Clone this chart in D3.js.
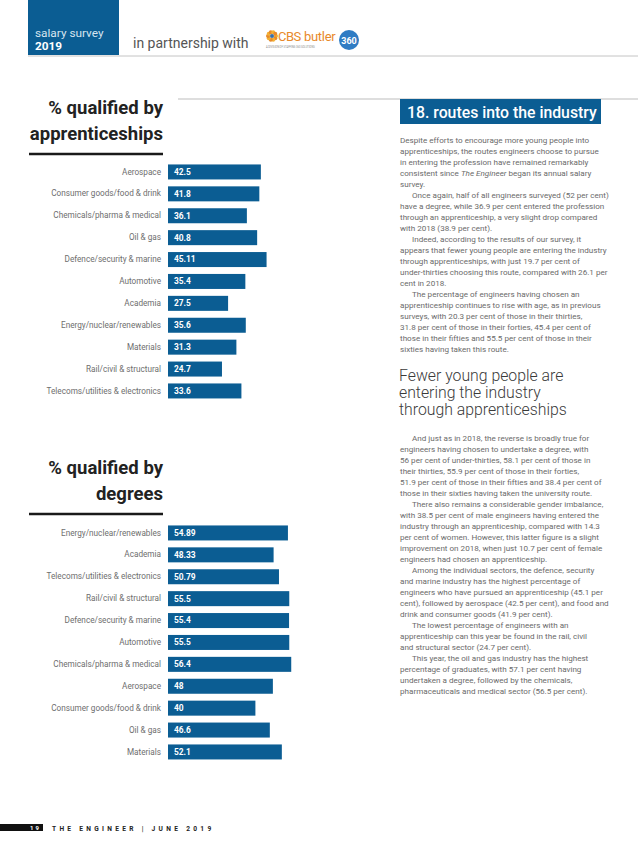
<!DOCTYPE html>
<html><head><meta charset="utf-8">
<script src="https://cdn.jsdelivr.net/npm/d3@7/dist/d3.min.js"></script>
<style>
html,body{margin:0;padding:0;background:#fff;}
svg{display:block;font-family:Roboto,"Noto Sans",sans-serif;}
</style></head>
<body>
<svg id="c" width="638" height="851"></svg>
<script>
// ---- data ----
const appCategories = ["Aerospace","Consumer goods/food & drink","Chemicals/pharma & medical","Oil & gas","Defence/security & marine","Automotive","Academia","Energy/nuclear/renewables","Materials","Rail/civil & structural","Telecoms/utilities & electronics"];
const appValues = [42.5,41.8,36.1,40.8,45.11,35.4,27.5,35.6,31.3,24.7,33.6];
const appLabels = ["42.5","41.8","36.1","40.8","45.11","35.4","27.5","35.6","31.3","24.7","33.6"];

const degCategories = ["Energy/nuclear/renewables","Academia","Telecoms/utilities & electronics","Rail/civil & structural","Defence/security & marine","Automotive","Chemicals/pharma & medical","Aerospace","Consumer goods/food & drink","Oil & gas","Materials"];
const degValues = [54.89,48.33,50.79,55.5,55.4,55.5,56.4,48,40,46.6,52.1];
const degLabels = ["54.89","48.33","50.79","55.5","55.4","55.5","56.4","48","40","46.6","52.1"];

const para1 = [
 ["Despite efforts to encourage more young people into",0],
 ["apprenticeships, the routes engineers choose to pursue",0],
 ["in entering the profession have remained remarkably",0],
 ["consistent since |The Engineer| began its annual salary",0],
 ["survey.",0],
 ["Once again, half of all engineers surveyed (52 per cent)",1],
 ["have a degree, while 36.9 per cent entered the profession",0],
 ["through an apprenticeship, a very slight drop compared",0],
 ["with 2018 (38.9 per cent).",0],
 ["Indeed, according to the results of our survey, it",1],
 ["appears that fewer young people are entering the industry",0],
 ["through apprenticeships, with just 19.7 per cent of",0],
 ["under-thirties choosing this route, compared with 26.1 per",0],
 ["cent in 2018.",0],
 ["The percentage of engineers having chosen an",1],
 ["apprenticeship continues to rise with age, as in previous",0],
 ["surveys, with 20.3 per cent of those in their thirties,",0],
 ["31.8 per cent of those in their forties, 45.4 per cent of",0],
 ["those in their fifties and 55.5 per cent of those in their",0],
 ["sixties having taken this route.",0]
];
const subhead = ["Fewer young people are","entering the industry","through apprenticeships"];
const para2 = [
 ["And just as in 2018, the reverse is broadly true for",1],
 ["engineers having chosen to undertake a degree, with",0],
 ["56 per cent of under-thirties, 58.1 per cent of those in",0],
 ["their thirties, 55.9 per cent of those in their forties,",0],
 ["51.9 per cent of those in their fifties and 38.4 per cent of",0],
 ["those in their sixties having taken the university route.",0],
 ["There also remains a considerable gender imbalance,",1],
 ["with 38.5 per cent of male engineers having entered the",0],
 ["industry through an apprenticeship, compared with 14.3",0],
 ["per cent of women. However, this latter figure is a slight",0],
 ["improvement on 2018, when just 10.7 per cent of female",0],
 ["engineers had chosen an apprenticeship.",0],
 ["Among the individual sectors, the defence, security",1],
 ["and marine industry has the highest percentage of",0],
 ["engineers who have pursued an apprenticeship (45.1 per",0],
 ["cent), followed by aerospace (42.5 per cent), and food and",0],
 ["drink and consumer goods (41.9 per cent).",0],
 ["The lowest percentage of engineers with an",1],
 ["apprenticeship can this year be found in the rail, civil",0],
 ["and structural sector (24.7 per cent).",0],
 ["This year, the oil and gas industry has the highest",1],
 ["percentage of graduates, with 57.1 per cent having",0],
 ["undertaken a degree, followed by the chemicals,",0],
 ["pharmaceuticals and medical sector (56.5 per cent).",0]
];

// ---- drawing ----
const BLUE = "#0b5d93";
const svg = d3.select("#c");

// header
svg.append("rect").attr("x",28).attr("y",0).attr("width",91).attr("height",55).attr("fill",BLUE);
svg.append("text").attr("x",35).attr("y",37).attr("font-size",11.8).attr("fill","#d6e4ef").text("salary survey");
svg.append("text").attr("x",35).attr("y",50).attr("font-size",11.8).attr("font-weight",700).attr("fill","#fff").text("2019");
svg.append("text").attr("x",133).attr("y",48).attr("font-size",14).attr("fill","#555").text("in partnership with");
svg.append("line").attr("x1",28).attr("x2",638).attr("y1",56).attr("y2",56).attr("stroke","#c4c4c4").attr("stroke-width",1);
// logo
const logo = svg.append("g");
d3.range(10).forEach(i=>{
  const a = i/10*2*Math.PI;
  logo.append("circle").attr("cx",272+Math.cos(a)*4).attr("cy",36+Math.sin(a)*4).attr("r",2).attr("fill",i%2?"#e8892a":"#f2b134");
});
logo.append("circle").attr("cx",272).attr("cy",36).attr("r",2).attr("fill","#3a6ea5");
logo.append("text").attr("x",278).attr("y",41).attr("font-size",13).attr("fill","#e8892a").attr("letter-spacing",-0.5).text("CBS");
logo.append("text").attr("x",304).attr("y",41).attr("font-size",13).attr("fill","#e8892a").attr("letter-spacing",-0.3).text("butler");
logo.append("text").attr("x",266).attr("y",48).attr("font-size",2.6).attr("fill","#888").text("A DIVISION OF STAFFING 360 SOLUTIONS");
logo.append("circle").attr("cx",349).attr("cy",40).attr("r",10).attr("fill","#2f7cc4");
logo.append("text").attr("x",349).attr("y",43.5).attr("text-anchor","middle").attr("font-size",9).attr("font-weight",700).attr("fill","#fff").text("360");

// rule across top of section
svg.append("line").attr("x1",178).attr("x2",638).attr("y1",99).attr("y2",99).attr("stroke","#bdbdbd").attr("stroke-width",1);

// chart titles
function title(lines, y0, ruleY){
  lines.forEach((t,i)=>svg.append("text").attr("x",163).attr("y",y0+i*25.5).attr("text-anchor","end")
    .attr("font-size",18.5).attr("font-weight",700).attr("fill","#222").text(t));
  svg.append("line").attr("x1",29).attr("x2",163).attr("y1",ruleY).attr("y2",ruleY).attr("stroke","#1a1a1a").attr("stroke-width",2.5);
}
title(["% qualified by","apprenticeships"],114,154);
title(["% qualified by","degrees"],474,514);

const x = d3.scaleLinear().domain([0,60]).range([168,168+60*2.185]);

function barChart(cats, vals, labs, top){
  const y = d3.scaleBand().domain(cats).range([top, top+21.9*cats.length]).paddingInner(0.315).paddingOuter(0.1575);
  const g = svg.append("g");
  const axis = d3.axisLeft(y).tickSize(0).tickPadding(7);
  const ag = g.append("g").attr("transform",`translate(${x(0)},0)`).call(axis);
  ag.select(".domain").remove();
  ag.selectAll("text").attr("font-size",8.2).attr("fill","#6e6e6e").attr("font-family","Roboto,sans-serif");
  const data = cats.map((c,i)=>({c, v:vals[i], l:labs[i]}));
  g.selectAll("rect.bar").data(data).join("rect").attr("class","bar")
    .attr("x",x(0)).attr("y",d=>y(d.c)).attr("width",d=>x(d.v)-x(0)).attr("height",y.bandwidth()).attr("fill",BLUE);
  g.selectAll("text.val").data(data).join("text").attr("class","val")
    .attr("x",x(0)+6).attr("y",d=>y(d.c)+y.bandwidth()/2).attr("dy","0.35em")
    .attr("font-size",8.4).attr("font-weight",700).attr("fill","#fff").text(d=>d.l);
}
barChart(appCategories, appValues, appLabels, 161);
barChart(degCategories, degValues, degLabels, 522);

// right column
svg.append("rect").attr("x",400).attr("y",99).attr("width",201).attr("height",25).attr("fill",BLUE);
svg.append("text").attr("x",407).attr("y",117.5).attr("font-size",15.8).attr("font-weight",500).attr("fill","#fff").text("18. routes into the industry");

function para(lines, y0){
  lines.forEach(([t,ind],i)=>{
    const tx = svg.append("text").attr("x",ind?412:400).attr("y",y0+i*11).attr("font-size",8.1).attr("fill","#6a6a6a");
    t.split("|").forEach((s,j)=>tx.append("tspan").attr("font-style",j%2?"italic":"normal").text(s));
  });
}
para(para1,143);
subhead.forEach((t,i)=>svg.append("text").attr("x",399).attr("y",380.5+i*17.2).attr("font-size",15.8).attr("font-weight",300).attr("fill","#3a3a3a").text(t));
para(para2,441);

// footer
svg.append("rect").attr("x",0).attr("y",824).attr("width",43).attr("height",7).attr("fill","#111");
svg.append("text").attr("x",30).attr("y",830).attr("font-size",6).attr("font-weight",700).attr("fill","#fff").attr("letter-spacing",2).text("19");
svg.append("text").attr("x",52).attr("y",830.5).attr("font-size",6.6).attr("font-weight",700).attr("fill","#222").attr("letter-spacing",3.3).text("THE ENGINEER | JUNE 2019");
</script>
</body></html>
